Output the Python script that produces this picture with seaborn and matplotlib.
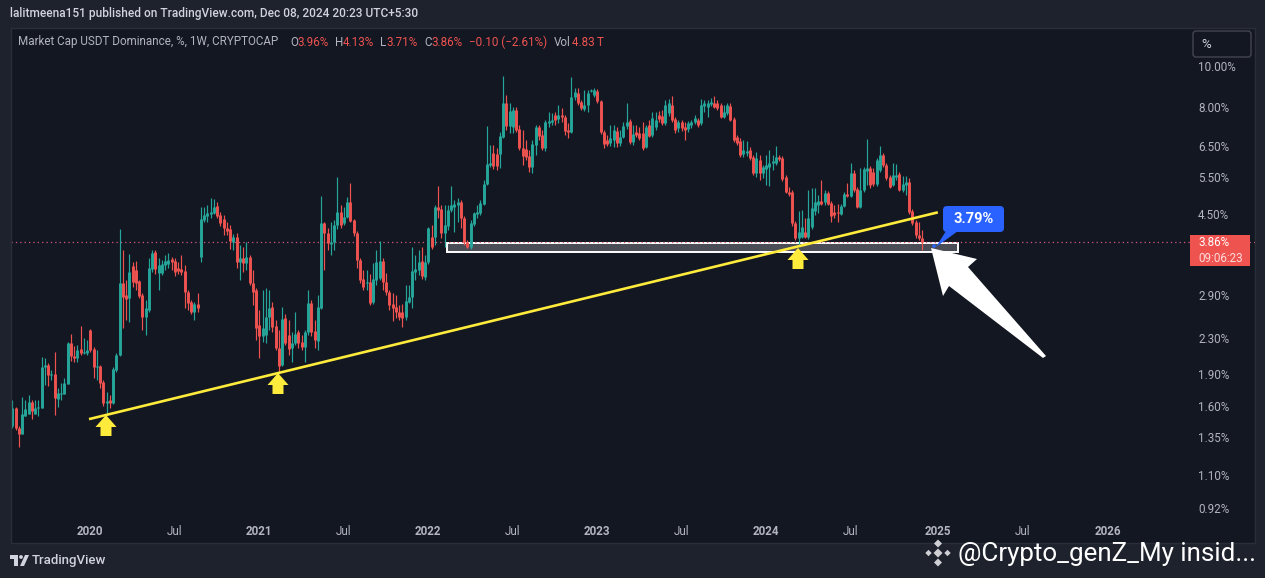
import matplotlib
matplotlib.use('Agg')
import matplotlib.pyplot as plt
from matplotlib.patches import Circle, FancyBboxPatch, Polygon, Rectangle
import numpy as np
import pandas as pd
import seaborn as sns

# weekly USDT dominance candles, values in %
opens = [
    1.43, 1.58, 1.42, 1.37, 1.51, 1.53, 1.63, 1.53, 1.58, 1.58,
    1.97, 1.99, 1.89, 1.90, 1.66, 1.70, 1.70, 1.80, 2.24, 2.09,
    2.07, 2.17, 2.13, 2.13, 2.40, 2.17, 1.97, 1.98, 1.82, 1.62,
    1.65, 1.62, 1.94, 2.10, 3.10, 2.90, 2.86, 3.40, 3.32, 3.13,
    2.90, 2.58, 2.68, 3.34, 3.66, 3.27, 3.27, 3.41, 3.43, 3.53,
    3.49, 3.36, 3.34, 3.31, 2.96, 2.80, 2.65, 2.77, 3.56, 4.35,
    4.45, 4.50, 4.52, 4.69, 4.47, 4.38, 4.17, 4.14, 3.86, 3.97,
    3.47, 3.55, 3.45, 3.56, 3.10, 2.98, 2.47, 2.33, 2.34, 2.58,
    2.73, 2.46, 2.18, 1.99, 2.57, 2.34, 2.18, 2.24, 2.38, 2.25,
    2.19, 2.38, 2.79, 2.39, 2.27, 2.71, 4.28, 4.06, 3.82, 3.86,
    4.24, 4.54, 4.28, 4.42, 4.80, 4.35, 4.06, 3.51, 3.17, 3.10,
    3.12, 2.80, 3.15, 3.18, 3.49, 3.12, 2.95, 2.77, 2.73, 2.65,
    2.65, 2.58, 2.80, 2.87, 3.29, 3.32, 3.49, 3.20, 3.47, 3.97,
    3.97, 4.67, 4.62, 4.06, 4.21, 4.59, 4.67, 4.72, 4.80, 4.40,
    3.86, 3.76, 4.26, 4.50, 4.52, 4.75, 5.29, 5.86, 6.25, 6.22,
    6.22, 6.82, 8.18, 7.23, 7.20, 7.89, 7.12, 6.42, 6.39, 6.15,
    5.80, 6.53, 7.19, 6.89, 6.42, 7.35, 7.39, 7.68, 7.51, 7.68,
    7.59, 7.08, 7.00, 8.46, 8.64, 8.23, 7.93, 8.10, 8.73, 8.55,
    8.73, 8.28, 7.00, 6.71, 6.60, 6.71, 7.04, 6.60, 6.82, 7.23,
    7.43, 6.64, 7.00, 6.96, 6.96, 6.46, 7.27, 6.89, 7.19, 7.68,
    7.64, 7.35, 7.76, 8.10, 7.51, 7.16, 7.39, 7.19, 7.12, 7.27,
    7.39, 7.47, 7.35, 8.06, 8.01, 8.14, 8.18, 8.18, 8.10, 7.59,
    7.76, 8.06, 7.51, 6.82, 6.67, 6.22, 6.25, 6.35, 6.12, 5.61,
    6.02, 5.61, 5.73, 5.80, 5.92, 5.92, 6.12, 6.08, 5.49, 5.07,
    5.07, 4.28, 3.95, 3.97, 4.08, 3.97, 4.19, 4.57, 4.72, 4.82,
    4.80, 5.04, 4.77, 4.54, 4.54, 4.50, 4.69, 5.01, 4.96, 5.61,
    5.15, 4.67, 5.12, 5.67, 5.76, 5.64, 5.29, 5.70, 6.18, 5.86,
    5.49, 5.26, 5.49, 5.58, 5.12, 5.26, 5.34, 4.57, 4.30, 4.01,
    3.96,
]
highs = [
    1.65, 1.59, 1.43, 1.68, 1.65, 1.69, 1.65, 1.65, 1.65, 2.08,
    2.07, 2.01, 1.94, 2.14, 1.76, 1.81, 1.86, 2.26, 2.36, 2.21,
    2.22, 2.46, 2.30, 2.28, 2.42, 2.19, 2.16, 1.99, 1.84, 1.72,
    1.69, 1.97, 2.13, 4.14, 3.70, 3.15, 3.62, 3.47, 3.49, 3.15,
    2.93, 2.83, 3.55, 3.70, 3.70, 3.55, 3.51, 3.60, 3.64, 3.56,
    3.55, 3.47, 3.60, 3.41, 2.98, 2.83, 2.80, 2.93, 4.67, 4.67,
    4.72, 4.90, 4.87, 4.80, 4.54, 4.47, 4.30, 4.24, 4.03, 4.06,
    3.80, 3.76, 3.86, 3.60, 3.32, 3.02, 2.68, 2.98, 3.02, 2.98,
    2.80, 2.54, 2.40, 2.73, 2.62, 2.54, 2.38, 2.65, 2.40, 2.34,
    2.40, 2.98, 2.83, 2.54, 2.90, 4.96, 4.30, 4.17, 4.30, 4.35,
    5.49, 4.72, 4.67, 4.93, 5.31, 4.38, 4.10, 3.55, 3.32, 3.32,
    3.25, 3.45, 3.70, 3.88, 3.55, 3.27, 2.98, 2.93, 2.90, 2.76,
    2.77, 3.07, 3.07, 3.76, 3.60, 3.70, 3.76, 3.60, 4.19, 4.24,
    4.72, 5.23, 4.72, 4.72, 4.72, 5.23, 4.85, 4.90, 4.85, 4.45,
    3.91, 4.35, 4.54, 4.72, 4.85, 5.40, 7.23, 6.53, 6.53, 6.42,
    7.00, 9.47, 8.55, 8.18, 8.01, 8.01, 7.27, 7.08, 6.71, 6.35,
    6.71, 7.27, 7.27, 7.08, 7.47, 7.80, 7.76, 7.80, 8.10, 7.97,
    7.68, 7.35, 9.42, 8.87, 8.87, 8.32, 8.78, 8.78, 8.83, 8.87,
    8.83, 8.32, 7.08, 6.89, 7.27, 7.27, 7.19, 7.08, 7.39, 8.18,
    7.51, 7.27, 7.27, 7.19, 7.39, 7.27, 7.47, 7.80, 7.80, 7.84,
    7.89, 8.32, 8.37, 8.50, 7.59, 7.47, 7.47, 7.39, 7.43, 7.47,
    7.68, 7.55, 8.37, 8.32, 8.32, 8.41, 8.50, 8.32, 8.18, 8.10,
    8.18, 8.18, 7.59, 6.89, 6.78, 6.71, 6.67, 6.46, 6.18, 6.28,
    6.18, 5.86, 6.18, 6.35, 6.18, 6.50, 6.18, 6.15, 5.55, 5.20,
    5.12, 4.33, 4.57, 4.59, 4.40, 5.12, 5.18, 5.18, 4.99, 5.40,
    5.12, 5.09, 4.82, 4.72, 4.75, 4.75, 5.07, 5.31, 5.92, 5.70,
    5.20, 5.76, 5.80, 6.75, 5.83, 5.76, 6.08, 6.50, 6.25, 5.92,
    5.55, 5.92, 5.89, 5.64, 5.52, 5.52, 5.46, 4.62, 4.35, 4.30,
    4.13,
]
lows = [
    1.42, 1.40, 1.28, 1.37, 1.51, 1.53, 1.49, 1.53, 1.51, 1.58,
    1.79, 1.78, 1.84, 1.52, 1.59, 1.65, 1.70, 1.80, 2.04, 2.02,
    2.02, 2.10, 2.11, 2.10, 2.14, 1.86, 1.84, 1.76, 1.60, 1.53,
    1.58, 1.61, 1.92, 2.09, 2.43, 2.54, 2.51, 3.03, 2.98, 2.86,
    2.40, 2.34, 2.65, 3.29, 3.25, 2.98, 3.23, 3.32, 3.36, 3.32,
    3.22, 3.25, 3.23, 2.71, 2.68, 2.62, 2.54, 2.65, 3.47, 4.30,
    4.30, 4.40, 4.50, 4.40, 4.21, 4.01, 4.01, 3.72, 3.70, 3.36,
    3.15, 3.29, 3.32, 3.07, 2.75, 2.28, 2.07, 2.25, 2.24, 2.40,
    2.38, 2.16, 1.92, 1.98, 2.22, 2.10, 2.02, 2.22, 2.18, 2.16,
    2.02, 2.34, 2.33, 2.18, 2.16, 2.70, 3.32, 3.70, 3.60, 3.70,
    4.14, 4.17, 4.24, 4.40, 4.30, 3.99, 3.36, 3.10, 2.98, 2.98,
    2.75, 2.77, 3.07, 3.15, 2.98, 2.90, 2.68, 2.52, 2.57, 2.54,
    2.45, 2.54, 2.78, 2.71, 3.15, 3.23, 3.17, 3.15, 3.43, 3.72,
    3.80, 4.40, 3.95, 3.76, 4.12, 4.54, 4.08, 4.30, 4.17, 3.80,
    3.74, 3.72, 4.21, 4.40, 4.47, 4.72, 5.26, 5.80, 5.73, 5.70,
    5.76, 6.78, 7.08, 6.96, 6.96, 7.00, 6.35, 5.86, 6.02, 5.64,
    5.61, 6.18, 6.71, 6.35, 6.32, 7.19, 7.27, 7.27, 7.35, 7.39,
    6.89, 6.78, 6.96, 8.32, 8.10, 7.89, 7.84, 7.80, 8.69, 8.46,
    8.18, 6.93, 6.42, 6.50, 6.50, 6.46, 6.46, 6.50, 6.78, 7.12,
    6.57, 6.53, 6.82, 6.71, 6.35, 6.42, 6.82, 6.82, 7.08, 7.39,
    7.27, 7.27, 7.64, 7.39, 6.96, 7.00, 7.04, 6.71, 7.00, 7.16,
    7.31, 7.19, 7.27, 7.80, 7.59, 8.06, 7.97, 7.89, 7.55, 7.55,
    7.68, 7.43, 6.64, 6.53, 6.12, 6.12, 6.15, 6.02, 5.55, 5.49,
    5.40, 5.46, 5.26, 5.23, 5.70, 5.86, 5.99, 5.37, 5.04, 4.96,
    4.21, 3.91, 3.78, 3.95, 3.95, 3.93, 4.14, 4.47, 4.52, 4.72,
    4.72, 4.72, 4.30, 4.40, 4.30, 4.47, 4.67, 4.93, 4.93, 5.07,
    4.64, 4.64, 5.07, 5.26, 5.18, 5.23, 5.23, 5.64, 5.80, 5.40,
    5.18, 5.23, 5.40, 5.09, 5.07, 4.99, 4.50, 4.24, 3.95, 3.91,
    3.71,
]
closes = [
    1.58, 1.42, 1.37, 1.53, 1.57, 1.63, 1.55, 1.58, 1.59, 1.97,
    1.99, 1.89, 1.90, 1.67, 1.71, 1.71, 1.81, 2.24, 2.09, 2.07,
    2.16, 2.13, 2.14, 2.16, 2.16, 1.97, 1.98, 1.81, 1.62, 1.64,
    1.62, 1.95, 2.10, 3.10, 2.88, 2.84, 3.29, 3.12, 3.10, 2.89,
    2.58, 2.71, 3.36, 3.64, 3.34, 3.41, 3.43, 3.49, 3.51, 3.47,
    3.29, 3.31, 3.29, 2.95, 2.78, 2.65, 2.77, 2.71, 4.38, 4.47,
    4.52, 4.54, 4.67, 4.45, 4.28, 4.17, 4.10, 3.88, 3.97, 3.47,
    3.55, 3.45, 3.56, 3.10, 2.95, 2.43, 2.33, 2.43, 2.58, 2.71,
    2.45, 2.18, 1.98, 2.55, 2.24, 2.17, 2.24, 2.36, 2.24, 2.19,
    2.38, 2.79, 2.38, 2.28, 2.73, 4.28, 4.06, 3.84, 3.86, 4.24,
    4.54, 4.24, 4.42, 4.80, 4.33, 4.06, 3.51, 3.15, 3.03, 3.12,
    2.78, 3.17, 3.47, 3.49, 3.12, 2.95, 2.76, 2.71, 2.65, 2.58,
    2.57, 2.81, 2.87, 3.31, 3.34, 3.47, 3.22, 3.47, 4.17, 3.76,
    4.67, 4.59, 4.06, 4.24, 4.59, 4.72, 4.75, 4.80, 4.40, 3.86,
    3.76, 4.28, 4.52, 4.54, 4.77, 5.29, 5.89, 5.92, 5.83, 5.83,
    6.85, 8.18, 7.23, 7.84, 7.89, 7.08, 6.42, 6.15, 6.12, 5.80,
    6.57, 7.19, 6.85, 6.42, 7.39, 7.43, 7.47, 7.47, 7.68, 7.59,
    7.04, 7.00, 8.46, 8.69, 8.18, 7.97, 8.10, 8.64, 8.78, 8.78,
    8.28, 7.00, 6.57, 6.57, 6.78, 7.08, 6.60, 6.82, 7.23, 7.39,
    6.64, 6.93, 6.89, 6.78, 6.42, 7.19, 6.85, 7.55, 7.47, 7.51,
    7.35, 8.10, 8.18, 7.47, 7.08, 7.39, 7.16, 7.08, 7.35, 7.39,
    7.55, 7.27, 8.10, 8.18, 8.18, 8.23, 8.01, 7.97, 7.59, 7.80,
    8.10, 7.47, 6.71, 6.60, 6.18, 6.35, 6.32, 6.08, 5.61, 6.08,
    5.61, 5.80, 5.86, 5.92, 5.99, 6.12, 6.05, 5.43, 5.07, 5.01,
    4.28, 3.95, 4.08, 4.19, 3.97, 4.40, 4.64, 4.80, 4.82, 4.75,
    5.04, 4.75, 4.45, 4.47, 4.52, 4.69, 5.01, 4.96, 5.61, 5.12,
    4.67, 5.12, 5.73, 5.76, 5.26, 5.29, 6.02, 6.18, 5.86, 5.46,
    5.20, 5.55, 5.55, 5.12, 5.29, 5.34, 4.54, 4.28, 4.01, 3.95,
    3.86,
]

price_ticks = [10.0, 8.0, 6.5, 5.5, 4.5, 2.9, 2.3, 1.9, 1.6, 1.35, 1.1, 0.92]
price_labels = ['10.00%', '8.00%', '6.50%', '5.50%', '4.50%', '2.90%', '2.30%',
                '1.90%', '1.60%', '1.35%', '1.10%', '0.92%']
time_ticks = [23.9, 49.8, 75.9, 101.8, 127.9, 153.8, 179.9, 205.8, 232, 257.8,
              284.8, 311, 337]
time_labels = ['2020', 'Jul', '2021', 'Jul', '2022', 'Jul', '2023', 'Jul',
               '2024', 'Jul', '2025', 'Jul', '2026']

last_close = 3.86
support_low, support_high = 3.67, 3.85
support_weeks = [133.7, 290.9]
trend_weeks = [23.6, 284.8]
trend_prices = [1.487, 4.54]

UP = '#26a69a'
DOWN = '#ef5350'
YELLOW = '#ffeb3b'
BLUE = '#2962ff'
BG = '#131722'
FRAME = '#1e222d'
GREY = '#b2b5be'

sns.set_theme(style='dark', rc={'axes.facecolor': BG, 'figure.facecolor': FRAME,
                                'lines.solid_capstyle': 'butt'})
plt.rcParams['font.family'] = ['Roboto', 'DejaVu Sans']

candles = pd.DataFrame({'open': opens, 'high': highs, 'low': lows, 'close': closes})
candles['week'] = np.arange(len(candles))
candles['side'] = np.where(candles['close'] >= candles['open'], 'up', 'down')
palette = {'up': UP, 'down': DOWN}

wicks = candles.melt(id_vars=['week', 'side'], value_vars=['low', 'high'], value_name='price')
bodies = candles.melt(id_vars=['week', 'side'], value_vars=['open', 'close'], value_name='price')

fig = plt.figure(figsize=(12.65, 5.78), dpi=100)
ax = fig.add_axes([11 / 1265, 1 - 543 / 578, 1244 / 1265, 515 / 578])
ax.set_yscale('log')

ax.add_patch(Rectangle((support_weeks[0], support_low), support_weeks[1] - support_weeks[0],
                       support_high - support_low, facecolor='#4b4d56',
                       edgecolor='white', linewidth=1.4, zorder=1))
ax.axhline(last_close, color='#d9577a', linewidth=0.9, linestyle=(0, (1, 2.5)), zorder=1.5)

for frame, width in [(wicks, 0.85), (bodies, 2.1)]:
    sns.lineplot(data=frame, x='week', y='price', hue='side', units='week', estimator=None,
                 palette=palette, sort=False, linewidth=width, legend=False, ax=ax, zorder=2)

sns.lineplot(x=trend_weeks, y=trend_prices, color=YELLOW, linewidth=1.9, ax=ax, zorder=3)

ax.set_xlim(-0.4, 382.4)
ax.set_ylim(0.762, 12.28)
ax.set(xlabel='', ylabel='')
ax.yaxis.tick_right()
ax.set_yticks(price_ticks, labels=price_labels)
ax.yaxis.set_minor_locator(plt.NullLocator())
ax.set_xticks(time_ticks, labels=time_labels)
ax.tick_params(axis='y', length=0, pad=-41, labelsize=8.4, labelcolor=GREY)
ax.tick_params(axis='x', length=0, pad=-13, labelsize=8.4, labelcolor=GREY)
for label in ax.get_xticklabels():
    if label.get_text() != 'Jul':
        label.set_fontweight('bold')
for spine in ax.spines.values():
    spine.set_color('#2a2e39')
    spine.set_linewidth(1)

# annotations sit on a full-figure overlay measured in picture pixels
ov = fig.add_axes([0, 0, 1, 1], facecolor='none')
ov.set_xlim(0, 1265)
ov.set_ylim(578, 0)
ov.axis('off')


def up_arrow(cx, tip):
    """Yellow drawing-tool arrow marking a touch of the trend line."""
    pts = [(cx, tip), (cx + 10.5, tip + 12), (cx + 5.5, tip + 12), (cx + 5.5, tip + 21),
           (cx - 5.5, tip + 21), (cx - 5.5, tip + 12), (cx - 10.5, tip + 12)]
    ov.add_patch(Polygon(pts, closed=True, color=YELLOW, linewidth=0))


up_arrow(106, 415)
up_arrow(278, 373)
up_arrow(798, 248)

# big white arrow
ov.add_patch(Polygon([(931, 248), (977, 259), (968, 267), (1046, 356), (1043, 358),
                      (949, 286), (943, 296)], closed=True, color='white', linewidth=0))

# blue callout
ov.add_patch(Polygon([(946, 231), (958, 231), (936, 247)], closed=True, color=BLUE, linewidth=0))
ov.add_patch(Circle((934, 246), 1.8, color=BLUE, linewidth=0))
ov.add_patch(FancyBboxPatch((946, 209), 55, 20, boxstyle='round,pad=3,rounding_size=4',
                            facecolor=BLUE, edgecolor='none'))
ov.text(973.5, 219, '3.79%', color='white', fontsize=10.5, fontweight='bold',
        ha='center', va='center')

# last price tag
ov.add_patch(Rectangle((1190, 235), 60, 31, color=DOWN, linewidth=0))
ov.text(1198, 243, '3.86%', color='white', fontsize=8.4, va='center')
ov.text(1198, 258, '09:06:23', color='#fbdcdc', fontsize=8.4, va='center')

# percent button
ov.add_patch(FancyBboxPatch((1195, 33), 54, 22, boxstyle='round,pad=2,rounding_size=3',
                            facecolor=BG, edgecolor='#434651', linewidth=1))
ov.text(1206, 44, '%', color='#d1d4dc', fontsize=9.5, ha='center', va='center')

# header and legend line
ov.text(10, 14, 'lalitmeena151 published on TradingView.com, Dec 08, 2024 20:23 UTC+5:30',
        color='#d1d4dc', fontsize=8.6, fontweight='medium', va='center')
ov.text(18, 42, 'Market Cap USDT Dominance, %, 1W, CRYPTOCAP', color=GREY, fontsize=8.4, va='center')
legend_parts = [(290, 'O', GREY), (297, '3.96%', DOWN), (335, 'H', GREY), (343, '4.13%', DOWN),
                (380, 'L', GREY), (386, '3.71%', DOWN), (424, 'C', GREY), (431, '3.86%', DOWN),
                (469, '\u22120.10 (\u22122.61%)', DOWN), (554, 'Vol', GREY), (572, '4.83\u2009T', DOWN)]
for x, text, color in legend_parts:
    ov.text(x, 42, text, color=color, fontsize=8.4, va='center')

# TradingView logo
ov.add_patch(Rectangle((10, 555), 8, 3.5, color='#d1d4dc', linewidth=0))
ov.add_patch(Rectangle((14, 558), 4, 8, color='#d1d4dc', linewidth=0))
ov.add_patch(Circle((21, 557), 1.9, color='#d1d4dc', linewidth=0))
ov.add_patch(Polygon([(25, 555), (29, 555), (24, 566), (20, 566)], closed=True,
                     color='#d1d4dc', linewidth=0))
ov.text(32, 560.5, 'TradingView', color='#d1d4dc', fontsize=9.5, fontweight='medium', va='center')

# watermark
for dx, dy, half in [(0, 0, 4.5), (0, -9.5, 4), (0, 9.5, 4), (-9.5, 0, 3.2), (9.5, 0, 3.2)]:
    cx, cy = 938 + dx, 553 + dy
    ov.add_patch(Polygon([(cx, cy - half), (cx + half, cy), (cx, cy + half), (cx - half, cy)],
                         closed=True, color='#d0d0d4', linewidth=0))
ov.text(958, 554, '@Crypto_genZ_My insid...', color='white', fontsize=18.7, va='center')

fig.savefig('out.png', dpi=100, facecolor=fig.get_facecolor())
